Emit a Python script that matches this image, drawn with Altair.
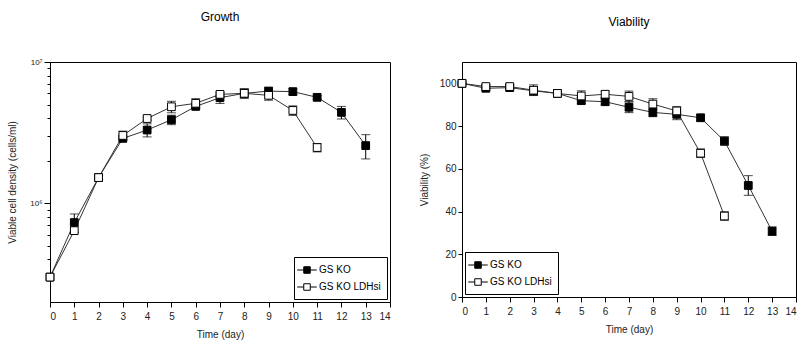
import altair as alt
import pandas as pd

days = list(range(14))
series_names = ["GS KO", "GS KO LDHsi"]

# Viable cell density (cells/ml), mean and SD per day
growth_ko = [3.0e5, 7.3e5, 1.52e6, 2.88e6, 3.3e6, 3.9e6, 4.85e6, 5.59e6, 6.0e6, 6.22e6, 6.17e6, 5.62e6, 4.4e6, 2.56e6]
growth_ko_sd = [0, 1.1e5, 0.05e6, 0.05e6, 0.35e6, 0.3e6, 0.1e6, 0.5e6, 0.45e6, 0.4e6, 0.3e6, 0.15e6, 0.45e6, 0.5e6]
growth_ldh = [3.0e5, 6.4e5, 1.52e6, 3.02e6, 3.98e6, 4.82e6, 5.1e6, 5.9e6, 6.0e6, 5.81e6, 4.54e6, 2.48e6]
growth_ldh_sd = [0, 0, 0.05e6, 0.22e6, 0.1e6, 0.45e6, 0.4e6, 0.2e6, 0.45e6, 0.45e6, 0.35e6, 0.17e6]

# Viability (%), mean and SD per day
via_ko = [100, 97.7, 98.0, 96.5, 95.3, 91.9, 91.4, 88.8, 86.4, 85.5, 83.9, 73.0, 52.2, 30.8]
via_ko_sd = [0.5, 1, 1, 2, 0.5, 1.5, 1.5, 2.5, 2, 2.5, 1.5, 2, 4.6, 2]
via_ldh = [100, 98.5, 98.5, 96.8, 95.3, 94.1, 94.9, 93.9, 90.3, 87.1, 67.3, 37.9]
via_ldh_sd = [0.5, 1, 1, 2.5, 0.5, 2.4, 1.5, 2.5, 2.5, 2, 2, 2]

# log-axis ticks: labelled decades plus unlabelled minor ticks
log_ticks = [3e5, 4e5, 5e5, 6e5, 7e5, 8e5, 9e5, 1e6,
             2e6, 3e6, 4e6, 5e6, 6e6, 7e6, 8e6, 9e6, 1e7]
via_ticks = [0, 20, 40, 60, 80, 100]
day_ticks = list(range(15))

FONT = "Liberation Sans"
LEGEND_SYMBOL = "M-1.5,0H-0.5M0.5,0H1.5M-0.5,-0.5H0.5V0.5H-0.5Z"
IS_DECADE = "datum.value == 1000000 || datum.value == 10000000"


def frame(ko, ko_sd, ldh, ldh_sd):
    rows = []
    for name, vals, sds in ((series_names[0], ko, ko_sd), (series_names[1], ldh, ldh_sd)):
        for d, v, s in zip(days, vals, sds):
            rows.append({"day": d, "value": v, "lo": v - s, "hi": v + s,
                         "has_err": s > 0, "series": name})
    return pd.DataFrame(rows)


def panel(df, title, y_scale, y_axis, y_title, legend_orient, width, height, title_offset, title_dy):
    x_axis = alt.Axis(values=day_ticks, title="Time (day)", grid=False, labelOverlap=False,
                      labelAngle=0, tickSize=5, labelPadding=4, titlePadding=8)
    x_scale = alt.Scale(domain=[0, 14], nice=False)

    def xq():
        return alt.X("day:Q", scale=x_scale, axis=x_axis)

    def yq(field):
        return alt.Y(f"{field}:Q", scale=y_scale, axis=y_axis, title=y_title)

    fill = alt.Fill("series:N",
                    scale=alt.Scale(domain=series_names, range=["black", "white"]),
                    legend=alt.Legend(title=None, orient=legend_orient, symbolType=LEGEND_SYMBOL,
                                      symbolSize=169, symbolStrokeColor="black",
                                      symbolStrokeWidth=1, strokeColor="black", fillColor="white",
                                      padding=6, offset=3, labelFontSize=10, labelFont=FONT,
                                      rowPadding=4, labelOffset=5))
    base = alt.Chart(df)

    line = base.mark_line(color="#333333", strokeWidth=1).encode(x=xq(), y=yq("value"), detail="series:N")
    errs = base.transform_filter("datum.has_err")
    rule = errs.mark_rule(color="black", strokeWidth=1).encode(x=xq(), y=yq("lo"), y2="hi:Q")
    cap_lo = errs.mark_tick(color="black", orient="horizontal", size=9, thickness=1).encode(x=xq(), y=yq("lo"))
    cap_hi = errs.mark_tick(color="black", orient="horizontal", size=9, thickness=1).encode(x=xq(), y=yq("hi"))
    pts = base.mark_point(shape="square", filled=True, stroke="black", strokeWidth=1,
                          size=60, opacity=1).encode(x=xq(), y=yq("value"), fill=fill)
    return alt.layer(line, rule, cap_lo, cap_hi, pts).properties(
        width=width, height=height,
        title=alt.TitleParams(title, fontSize=12, fontWeight="normal", font=FONT,
                              offset=title_offset, dy=title_dy),
    )


growth_df = frame(growth_ko, growth_ko_sd, growth_ldh, growth_ldh_sd)
via_df = frame(via_ko, via_ko_sd, via_ldh, via_ldh_sd)

growth_axis = alt.Axis(values=log_ticks, grid=False, labelFontSize=8, labelOverlap=False,
                       tickSize={"condition": {"test": IS_DECADE, "value": 6}, "value": 3},
                       labelExpr="datum.value == 10000000 ? '10⁷' : (datum.value == 1000000 ? '10⁶' : '')",
                       titlePadding=12, labelPadding=2)

left = panel(growth_df, "Growth",
             alt.Scale(type="log", domain=[2e5, 1e7], nice=False),
             growth_axis, "Viable cell density (cells/ml)",
             "bottom-right", 340, 240, 34, 0)

right = panel(via_df, "Viability",
              alt.Scale(domain=[0, 110], nice=False),
              alt.Axis(values=via_ticks, grid=False, tickSize=4, labelOverlap=False,
                       titlePadding=10, labelPadding=2),
              "Viability (%)", "bottom-left", 334, 235, 36, 3)

chart = alt.hconcat(left, right, spacing=27).properties(
    padding={"left": 7, "top": 10, "right": 5, "bottom": 5}
).configure_view(stroke="black", strokeWidth=1).configure_axis(
    labelFont=FONT, titleFont=FONT, labelFontSize=10, titleFontSize=10,
    titleFontWeight="normal", labelColor="#222222", titleColor="#222222",
    domainColor="black", tickColor="black"
)

chart.save("out.html", embed_options={"renderer": "svg", "actions": False})
